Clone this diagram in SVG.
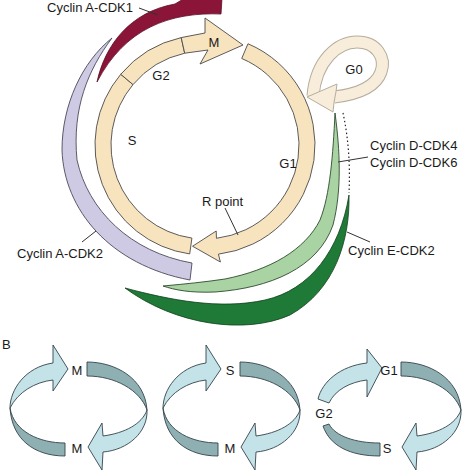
<svg xmlns="http://www.w3.org/2000/svg" width="474" height="474" viewBox="0 0 474 474">
<defs>
<style>
text{font-family:"Liberation Sans",Arial,sans-serif;font-size:13px;fill:#1a1a1a}
.c{text-anchor:middle}
.ring{fill:#f8e3bf;stroke:#4a4a4a;stroke-width:0.9;stroke-linejoin:round}
.lead{stroke:#333;stroke-width:1;fill:none}
.lt{fill:#c4e3e8;stroke:#34434a;stroke-width:0.9;stroke-linejoin:round}
.dk{fill:#8fb0b3;stroke:#34434a;stroke-width:0.9;stroke-linejoin:round}
</style>
</defs>
<rect width="474" height="474" fill="#fff"/>
<g id="cyclin-a-cdk2-band"><path d="M 112,38 C 82,62 62,105 62,150 C 64,210 110,265 190,280 L 192,263 C 130,252 88,210 77,160 C 72,108 88,70 112,38 Z" fill="#cfcae3" stroke="#4a4a5a" stroke-width="0.9"/></g>
<g id="cyclin-a-cdk1-band"><path d="M 97,82 C 105,45 130,12 175,4 L 185,-2 L 222,-2 L 221,14 C 170,12 125,28 97,82 Z" fill="#8a1538" stroke="#5a0e25" stroke-width="0.8"/></g>
<g id="cyclin-d-band"><path d="M 335,113 C 340,150 342,190 333,225 C 318,268 270,288 215,292 C 190,293 175,290 163,286 C 185,284 205,282 225,279 C 270,270 305,250 320,220 C 330,195 333,155 335,113 Z" fill="#a9d3a3" stroke="#2e4a2e" stroke-width="0.9"/></g>
<g id="cyclin-e-band"><path d="M 349,195 C 350,240 335,290 290,315 C 245,335 175,325 125,288 C 170,300 220,310 265,300 C 310,290 340,250 349,195 Z" fill="#1e7a36" stroke="#123f1c" stroke-width="0.8"/></g>
<g id="g1-phase"><path class="ring" d="M 247.98,43.74 A 110 110 0 0 1 218.41,254.18 L 220.4,262.0 L 192.57,246.23 L 216.2,231.0 L 216.46,238.30 A 94 94 0 0 0 241.73,58.47 Z"/></g>
<g id="s-phase"><path class="ring" d="M 189.69,253.93 A 110 110 0 0 1 120.74,74.29 L 132.99,84.58 A 94 94 0 0 0 191.92,238.09 Z"/></g>
<g id="g2-phase"><path class="ring" d="M 120.74,74.29 A 110 110 0 0 1 181.19,37.60 L 184.66,53.23 A 94 94 0 0 0 132.99,84.58 Z"/></g>
<g id="m-phase"><polygon class="ring" points="181.2,37.6 205,33 205,18 243,45 200,64 208,50 184.7,53.2"/></g>
<g id="g0-loop">
<path d="M 313,96 C 316,60 338,42 357,42 C 377,42 386,58 381,72 C 376,86 360,94 334,97" fill="none" stroke="#b5ad9d" stroke-width="13"/>
<path d="M 313,96 C 316,60 338,42 357,42 C 377,42 386,58 381,72 C 376,86 360,94 334,97" fill="none" stroke="#f8eddb" stroke-width="11"/>
<polygon points="336,91.5 337,84 307,97 333,112 334,102.5" fill="#f8eddb" stroke="#b5ad9d" stroke-width="1"/>
</g>
<g id="connectors">
<path d="M 343,113 Q 351,150 349,193" fill="none" stroke="#222" stroke-width="1.2" stroke-dasharray="1.5 2.5"/>
<line class="lead" x1="139" y1="8" x2="158" y2="15"/>
<line class="lead" x1="338" y1="162" x2="368" y2="157"/>
<line class="lead" x1="347" y1="232" x2="370" y2="242"/>
<line class="lead" x1="225" y1="208" x2="238" y2="235"/>
<line class="lead" x1="82" y1="242" x2="96" y2="231"/>
</g>
<g id="labels-a">
<text x="47" y="12">Cyclin A-CDK1</text>
<text x="17" y="258">Cyclin A-CDK2</text>
<text x="370" y="150">Cyclin D-CDK4</text>
<text x="370" y="167">Cyclin D-CDK6</text>
<text x="348" y="255">Cyclin E-CDK2</text>
<text x="202" y="206">R point</text>
<text class="c" x="214" y="47">M</text>
<text class="c" x="161" y="80">G2</text>
<text class="c" x="132" y="145">S</text>
<text class="c" x="288" y="168">G1</text>
<text class="c" x="354" y="74">G0</text>
</g>
<text x="2" y="349">B</text>
<g id="cycle-mm">
<path class="dk" d="M 87,362 C 115,362 145,378 147,410 C 140,390 115,376 87,376 Z"/>
<path class="dk" d="M 10,408 C 14,432 40,443 65,443 L 65,456 C 35,456 12,440 10,408 Z"/>
<path class="lt" d="M 10,408 C 10,390 25,367 53,363 L 53,345 L 68,369 L 53,391 L 53,380 C 35,382 18,392 10,408 Z"/>
<path class="lt" d="M 147,410 C 148,432 128,450 103,452 L 102,470 L 88,447 L 102,423 L 103,436 C 125,433 142,424 147,410 Z"/>
<text class="c" x="77" y="375">M</text>
<text class="c" x="77" y="453">M</text>
</g>
<g id="cycle-sm" transform="translate(153,0)">
<path class="dk" d="M 87,362 C 115,362 145,378 147,410 C 140,390 115,376 87,376 Z"/>
<path class="dk" d="M 10,408 C 14,432 40,443 65,443 L 65,456 C 35,456 12,440 10,408 Z"/>
<path class="lt" d="M 10,408 C 10,390 25,367 53,363 L 53,345 L 68,369 L 53,391 L 53,380 C 35,382 18,392 10,408 Z"/>
<path class="lt" d="M 147,410 C 148,432 128,450 103,452 L 102,470 L 88,447 L 102,423 L 103,436 C 125,433 142,424 147,410 Z"/>
<text class="c" x="77" y="375">S</text>
<text class="c" x="77" y="453">M</text>
</g>
<g id="cycle-g1sg2">
<path class="dk" d="M 401,362 C 429,362 459,378 461,410 C 454,390 429,376 401,376 Z"/>
<path class="dk" d="M 323,426 L 329,424 C 335,436 355,443 380,443 L 380,456 C 350,456 330,446 323,426 Z"/>
<path class="lt" d="M 318,399 C 322,382 340,366 367,363 L 367,349 L 382,368 L 367,397 L 367,380 C 350,382 335,390 329,403 Z"/>
<path class="lt" d="M 461,410 C 462,432 442,450 417,452 L 416,470 L 402,447 L 416,423 L 417,436 C 439,433 456,424 461,410 Z"/>
<text class="c" x="389" y="375">G1</text>
<text class="c" x="387" y="453">S</text>
<text class="c" x="324" y="418">G2</text>
</g>
</svg>
